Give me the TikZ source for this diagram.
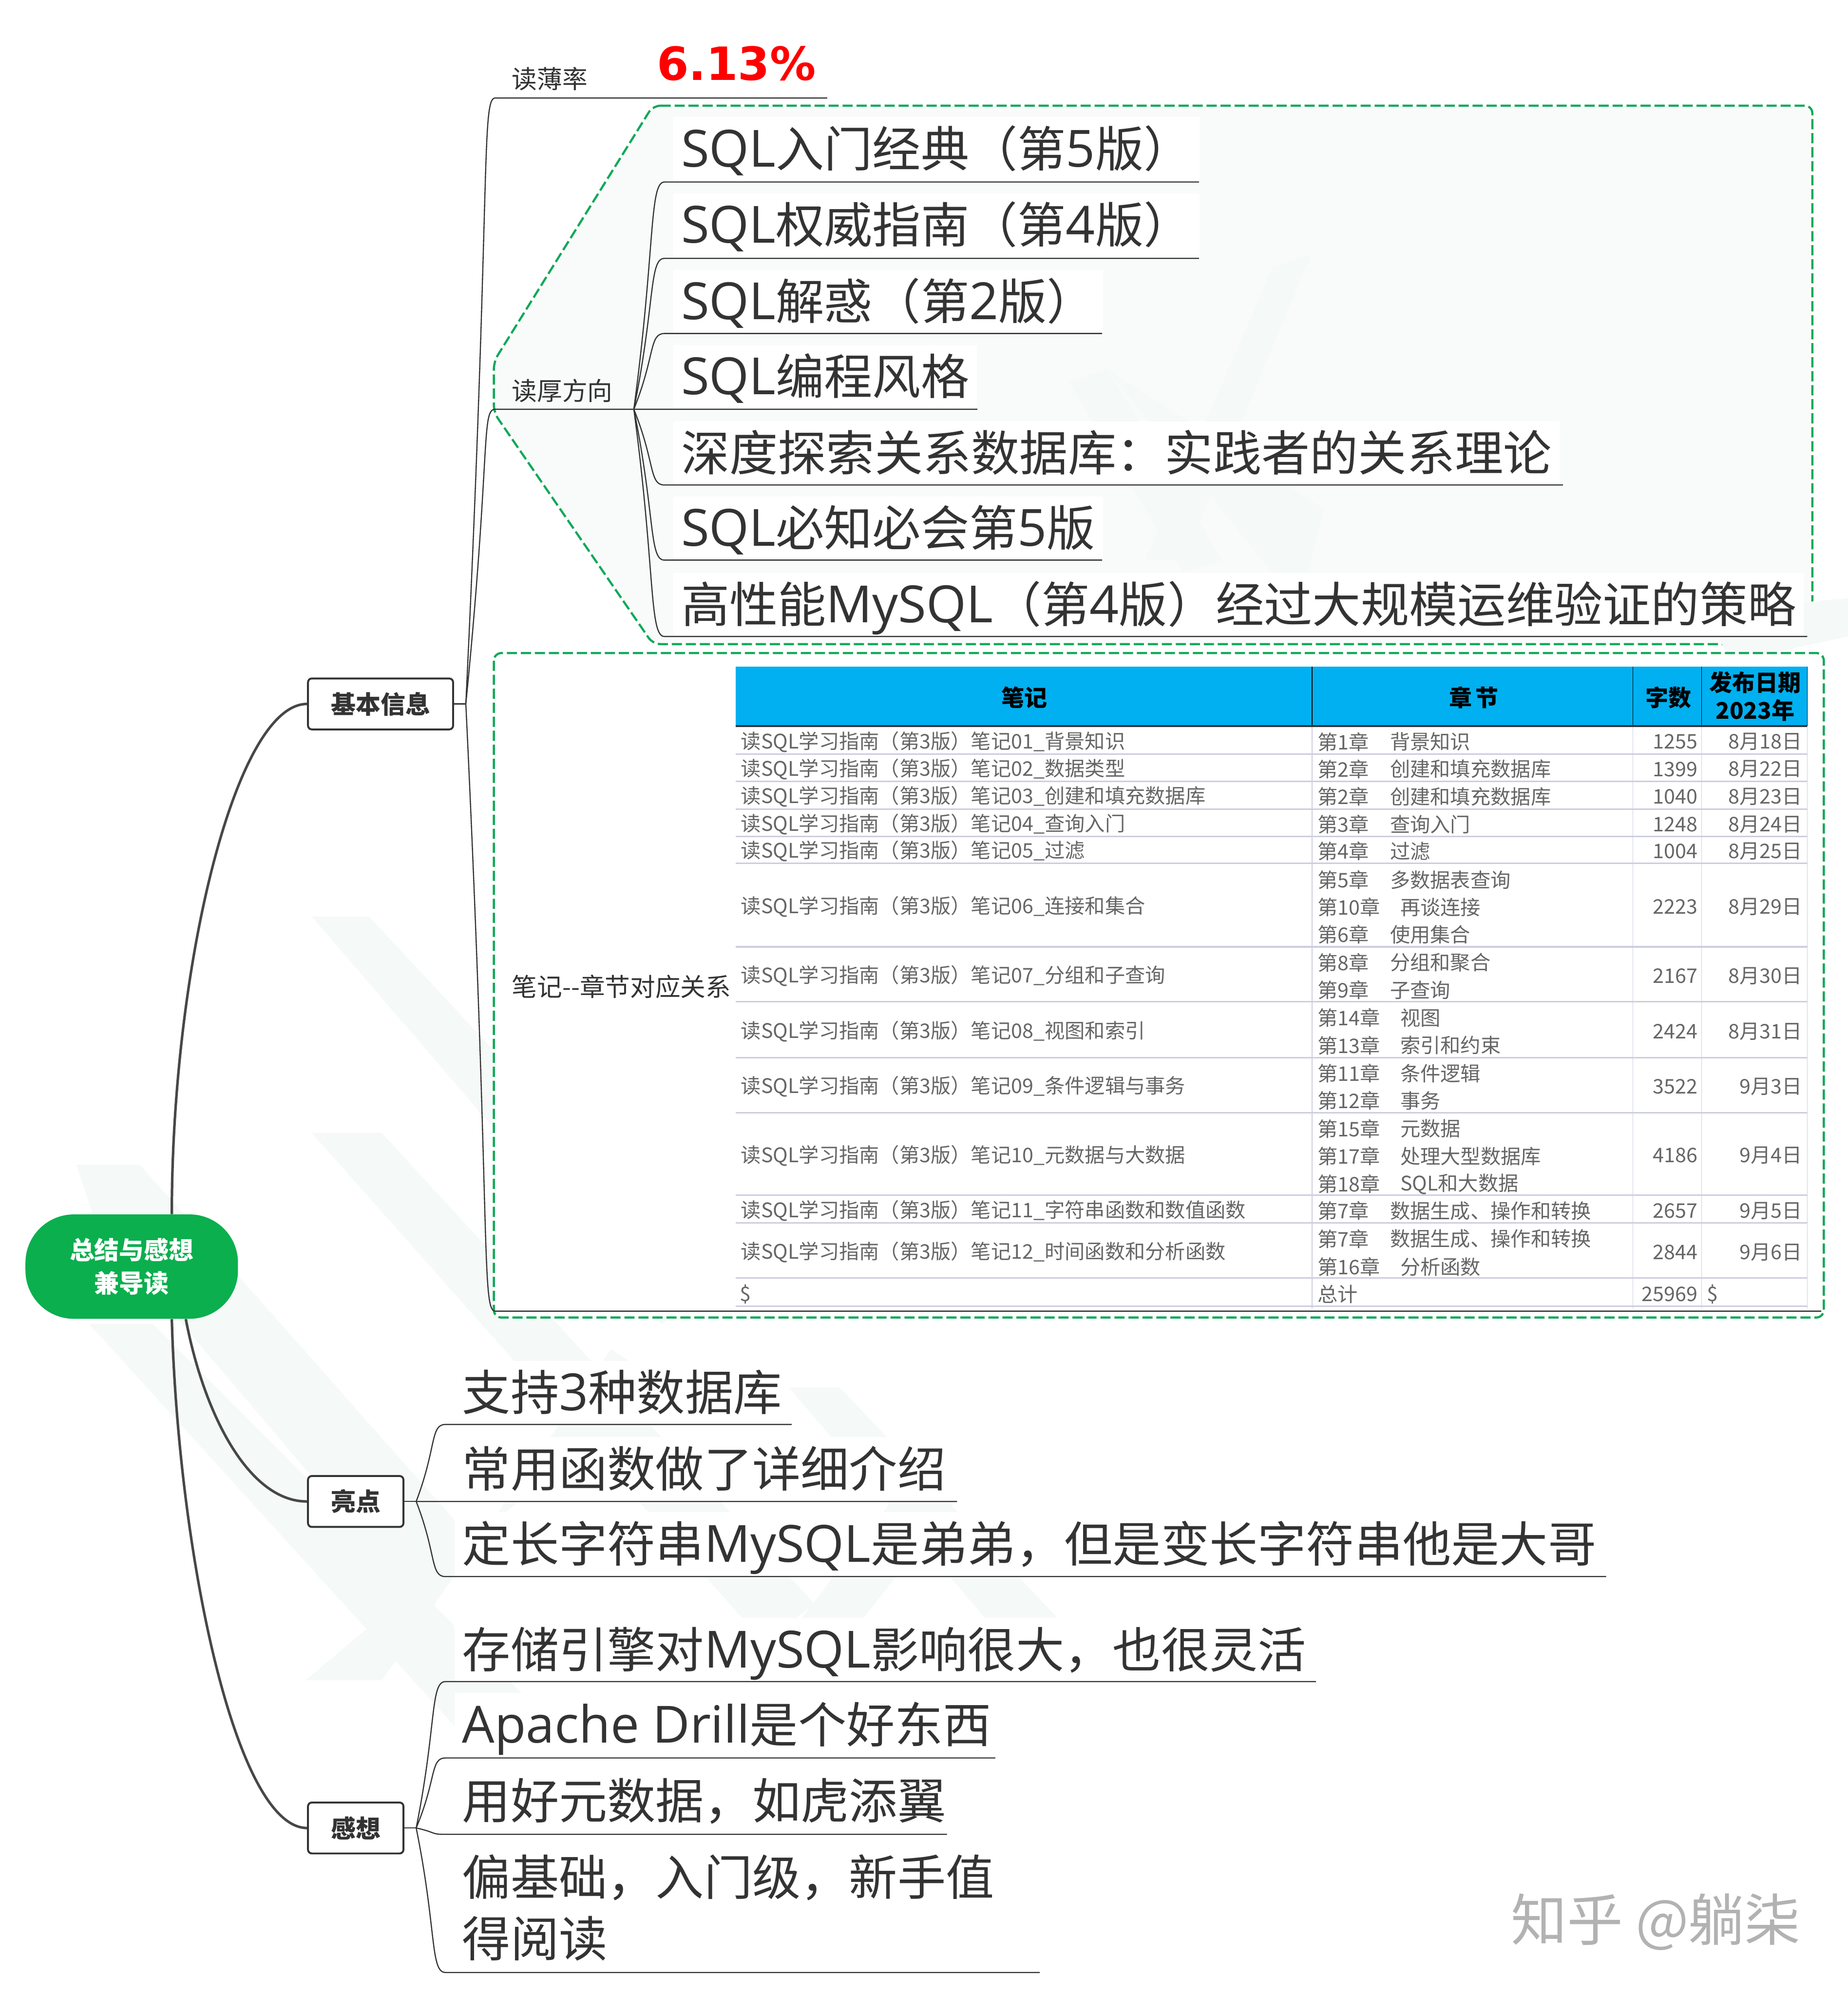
\documentclass[tikz,border=0pt]{standalone}
\usepackage{fontspec}
\setmainfont{Noto Sans CJK SC}
\newfontfamily\latfont{Open Sans}[Scale=1.06]
\usetikzlibrary{calc}
\definecolor{rootgreen}{HTML}{0BAF4E}
\definecolor{dashgreen}{HTML}{12A85A}
\definecolor{inkgray}{HTML}{333333}
\definecolor{headblue}{HTML}{00B0F0}
\definecolor{rulegray}{HTML}{CDCDE0}
\definecolor{markpale}{HTML}{F5F9F8}
\definecolor{zonepale}{HTML}{F9FBFA}
\definecolor{cellgray}{HTML}{666666}
\newcommand{\fs}[1]{\fontsize{#1}{#1}\selectfont}
\newcommand{\lat}[1]{{\latfont #1}}
\begin{document}
\begin{tikzpicture}[
    x=1pt, y=-1pt,
    leaf/.style = {anchor=west, inner xsep=6pt, inner ysep=2pt, fill=white, text=inkgray, font=\fs{38},
                   text height=37pt, text depth=9pt},
    small/.style = {anchor=west, inner sep=0pt, text=inkgray, font=\fs{19.8}},
    topic/.style = {draw=inkgray, line width=1.5pt, fill=white, rounded corners=3pt, inner sep=0pt,
                    text=inkgray, font=\fs{19.5}\bfseries, minimum height=40pt},
    branch/.style = {draw=inkgray, line width=0.9pt},
    trunk/.style = {draw=inkgray!90, line width=2pt},
    zone/.style = {draw=dashgreen, line width=1.7pt, dash pattern=on 8pt off 3pt, rounded corners=6pt},
    cell/.style = {inner sep=0pt, text=cellgray, font=\fs{15.8}},
    headcell/.style = {inner sep=0pt, text=black, font=\fs{18}\bfseries}
                    ]
        \useasboundingbox (0,0) rectangle (1452,1568);
        % green zone behind the books
        \draw[zone, fill=zonepale] (513,83) -- (1424,83) -- (1424,506) -- (513,506) -- (388,324) -- (388,284) -- cycle;
        % watermark
        \fill[markpale] (60,915) -- (110,915) -- (380,1220) -- (330,1260) -- (75,960) -- cycle;
        \fill[markpale] (70,1040) -- (120,1040) -- (420,1340) -- (370,1370) -- cycle;
        \fill[markpale] (245,720) -- (290,720) -- (560,1010) -- (520,1040) -- cycle;
        \fill[markpale] (245,890) -- (300,890) -- (640,1260) -- (600,1290) -- cycle;
        \fill[markpale] (240,1320) -- (300,1320) -- (480,1060) -- (520,1085) -- cycle;
        \fill[markpale] (620,1090) -- (660,1090) -- (830,1270) -- (790,1290) -- cycle;
        \fill[markpale] (700,1180) -- (750,1180) -- (640,1320) -- (600,1310) -- cycle;
        \fill[markpale] (1000,210) -- (1030,200) -- (930,440) -- (900,440) -- cycle;
        \fill[markpale] (870,290) -- (1040,400) -- (1020,480) -- (1000,450) -- cycle;
        \fill[markpale] (840,300) -- (870,290) -- (960,440) -- (930,450) -- cycle;
        \fill[markpale] (1340,480) -- (1452,470) -- (1452,500) -- (1360,520) -- cycle;
        \node[inner sep=0pt, text=black!30, font=\fs{44}] (mark) at (1301,1510) {知乎 @躺柒};
        % table zone
        \draw[zone, fill=white] (388,513) rectangle (1433,1035);
        % root and topics
        \node[fill=rootgreen, rounded corners=38pt, minimum width=167pt, minimum height=82pt, inner sep=0pt,
              text=white, align=center, font=\fontsize{19.5}{26}\selectfont\bfseries] (root) at (103.5,995) {总结与感想\\兼导读};
        \node[topic, minimum width=114pt] (info) at (299,553) {基本信息};
        \node[topic, minimum width=75pt] (good) at (279.5,1179.5) {亮点};
        \node[topic, minimum width=75pt] (feel) at (279.5,1436) {感想};
        \draw[trunk] ([xshift=31.5pt]root.north) .. controls (135,760) and (185,553) .. (info.west);
        \draw[trunk] ([xshift=42.5pt]root.south) .. controls (160,1110) and (195,1179.5) .. (good.west);
        \draw[trunk] ([xshift=31.5pt]root.south) .. controls (140,1220) and (185,1436) .. (feel.west);
        % junctions
        \coordinate (infoj) at (366,553);
        \coordinate (thick) at (498,321.5);
        \coordinate (goodj) at (327,1179.5);
        \coordinate (feelj) at (327,1436);
        \draw[branch] (info.east) -- (infoj);
        \draw[branch] (good.east) -- (goodj);
        \draw[branch] (feel.east) -- (feelj);
        % books
        \foreach \n/\y/\t in {a/117/\lat{SQL}入门经典（第\lat{5}版）, b/177/\lat{SQL}权威指南（第\lat{4}版）,
                c/237/\lat{SQL}解惑（第\lat{2}版）, d/296/\lat{SQL}编程风格,
                e/356/深度探索关系数据库：实践者的关系理论, f/415/\lat{SQL}必知必会第\lat{5}版,
                g/475/高性能\lat{MySQL}（第\lat{4}版）经过大规模运维验证的策略}
            \node[leaf] (book\n) at (529,\y) {\t};
        \foreach \n/\ly/\e in {a/143/942, b/203/942, c/262/866, d/321.5/768, e/381/1228, f/440/866, g/500/1420}{
            \coordinate (book\n l) at (522,\ly);
            \coordinate (book\n e) at (\e,\ly);
            \draw[branch] (thick) .. controls ($(thick)!.7!(book\n l)$) and (510,\ly) .. (book\n l) -- (book\n e);
        }
        % first level under the info topic
        \foreach \n/\ly/\lx in {thin/77/650, dir/321.5/498, tab/1030/1431}{
            \coordinate (\n l) at (389,\ly);
            \coordinate (\n e) at (\lx,\ly);
            \draw[branch] (infoj) .. controls ($(infoj)!.85!(\n l)$) and (378,\ly) .. (\n l) -- (\n e);
        }
        \node[small] (thint) at (402,62) {读薄率};
        \node[small] (dirt) at (402,307) {读厚方向};
        \node[small] (tabt) at (402,775) {笔记-{}-章节对应关系};
        \node[inner sep=0pt, text=red, font=\fontspec{DejaVu Sans}\fs{36}\bfseries] (rate) at (578.5,50) {6.13\%};
        % good points
        \foreach \n/\y/\t in {a/1094/支持\lat{3}种数据库, b/1154/常用函数做了详细介绍,
                c/1213/定长字符串\lat{MySQL}是弟弟，但是变长字符串他是大哥}
            \node[leaf] (good\n) at (357,\y) {\t};
        \foreach \n/\ly/\e in {a/1119/622, b/1179.5/752, c/1238.5/1262}{
            \coordinate (good\n l) at (350,\ly);
            \coordinate (good\n e) at (\e,\ly);
            \draw[branch] (goodj) .. controls ($(goodj)!.7!(good\n l)$) and (338,\ly) .. (good\n l) -- (good\n e);
        }
        % feelings
        \foreach \n/\y/\t in {a/1296/存储引擎对\lat{MySQL}影响很大，也很灵活, b/1355/\lat{Apache Drill}是个好东西,
                c/1415/用好元数据，如虎添翼, d/1475/偏基础，入门级，新手值, w/1523/得阅读}
            \node[leaf] (feel\n) at (357,\y) {\t};
        \foreach \n/\ly/\e in {a/1321/1034, b/1381/782, c/1441/744, d/1549.5/817}{
            \coordinate (feel\n l) at (350,\ly);
            \coordinate (feel\n e) at (\e,\ly);
            \draw[branch] (feelj) .. controls ($(feelj)!.7!(feel\n l)$) and (338,\ly) .. (feel\n l) -- (feel\n e);
        }
        % table
        \fill[headblue] (578,523.5) rectangle (1420,570.5);
        \foreach \y in {592.3,613.8,635.6,657,678,743.8,787,831,874,938.8,960.7,1004,1026}
            \draw[rulegray, line width=1.2pt] (578,\y) -- (1420,\y);
        \foreach \x in {1031,1283,1337,1420}{
            \draw[rulegray, line width=0.6pt] (\x,570.5) -- (\x,1028);
            \draw[black, line width=0.6pt] (\x,523.5) -- (\x,570.5);
        }
        \draw[black!80, line width=1.5pt] (578,570.5) -- (1420,570.5);
        \node[headcell] (hnote) at (805,548) {笔记};
        \node[headcell] (hchap) at (1158,548) {章\,节};
        \node[headcell] (hword) at (1311,548) {字数};
        \node[headcell] (hdate) at (1379,536) {发布日期};
        \node[headcell] (hyear) at (1379,558) {2023年};
        \foreach \y/\i/\t/\w/\d in {582.7/01/背景知识/1255/8月18日, 604.2/02/数据类型/1399/8月22日, 625.9/03/创建和填充数据库/1040/8月23日,
                647.5/04/查询入门/1248/8月24日, 668.7/05/过滤/1004/8月25日, 712.2/06/连接和集合/2223/8月29日,
                766.7/07/分组和子查询/2167/8月30日, 810.2/08/视图和索引/2424/8月31日, 853.7/09/条件逻辑与事务/3522/9月3日,
                907.7/10/元数据与大数据/4186/9月4日, 951.2/11/字符串函数和数值函数/2657/9月5日, 983.7/12/时间函数和分析函数/2844/9月6日}{
            \node[cell, anchor=west] (note\i) at (582,\y) {读SQL学习指南（第3版）笔记\i\_\t};
            \node[cell, anchor=east] (word\i) at (1334,\y) {\w};
            \node[cell, anchor=east] (date\i) at (1416,\y) {\d};
        }
        \foreach \n/\y/\a/\b in {a/582.7/第1章/背景知识, b/604.2/第2章/创建和填充数据库, c/625.9/第2章/创建和填充数据库,
                d/647.5/第3章/查询入门, e/668.7/第4章/过滤, f/691.2/第5章/多数据表查询, h/734.2/第6章/使用集合,
                i/756.2/第8章/分组和聚合, j/777.7/第9章/子查询, q/951.2/第7章/数据生成、操作和转换, r/973.2/第7章/数据生成、操作和转换}{
            \node[cell, anchor=west] (cha\n) at (1035,\y) {\a};
            \node[cell, anchor=west] (cht\n) at (1092,\y) {\b};
        }
        \foreach \n/\y/\a/\b in {g/712.7/第10章/再谈连接, k/799.7/第14章/视图, l/821.2/第13章/索引和约束, m/843.2/第11章/条件逻辑,
                n/864.7/第12章/事务, o/886.7/第15章/元数据, p/908.2/第17章/处理大型数据库, s/930.2/第18章/SQL和大数据, t/995.2/第16章/分析函数}{
            \node[cell, anchor=west] (cha\n) at (1035,\y) {\a};
            \node[cell, anchor=west] (cht\n) at (1100,\y) {\b};
        }
        \node[cell, anchor=west] (sumd) at (581,1016.7) {\$};
        \node[cell, anchor=west] (sumt) at (1035,1016.7) {总计};
        \node[cell, anchor=east] (sumw) at (1334,1016.7) {25969};
        \node[cell, anchor=west] (sume) at (1341,1016.7) {\$};
    \end{tikzpicture}
\end{document}
